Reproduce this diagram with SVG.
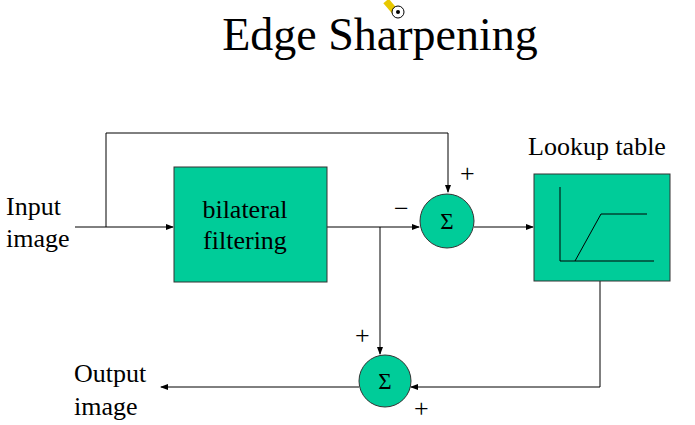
<svg xmlns="http://www.w3.org/2000/svg" width="695" height="425" viewBox="0 0 695 425">
<defs><marker id="a" markerWidth="8" markerHeight="8" refX="7" refY="4" orient="auto" markerUnits="userSpaceOnUse"><path d="M0,1 L8,4 L0,7 z" fill="#000"/></marker>
<style>.n{fill:#00cc99;stroke:#333;stroke-width:1}.c{fill:none;stroke:#000;stroke-width:1}</style></defs>
<rect width="695" height="425" fill="#fff"/>
<text x="380" y="50" font-size="46" text-anchor="middle" style="font-family:'Liberation Serif',serif">Edge Sharpening</text>
<g id="icon"><path d="M386,1 L398,15" stroke="#e8c800" stroke-width="7"/><circle cx="398" cy="12" r="6" fill="#fff" stroke="#000"/><circle cx="398" cy="12" r="2" fill="#000"/></g>
<g id="connectors">
<path class="c" d="M75,227 H173" marker-end="url(#a)"/>
<path class="c" d="M106,227 V133 H448 V192" marker-end="url(#a)"/>
<path class="c" d="M327,227 H419" marker-end="url(#a)"/>
<path class="c" d="M380,227 V354" marker-end="url(#a)"/>
<path class="c" d="M474,227 H533" marker-end="url(#a)"/>
<path class="c" d="M600,281 V387 H411" marker-end="url(#a)"/>
<path class="c" d="M359,387 H161" marker-end="url(#a)"/>
</g>
<g style="font-family:'Liberation Serif',serif;font-size:26px">
<g id="bilateral"><rect class="n" x="174" y="167" width="153" height="115"/><text x="245" y="218" text-anchor="middle">bilateral</text><text x="245" y="249" text-anchor="middle">filtering</text></g>
<g id="sum1"><circle class="n" cx="447" cy="221" r="27"/><text x="447" y="229" font-size="23" text-anchor="middle">Σ</text></g>
<g id="lut"><rect class="n" x="534" y="174" width="136" height="107"/><path class="c" d="M560,187 V261 H654 M575,261 L601,214 H647" stroke="#333"/></g>
<g id="sum2"><circle class="n" cx="385" cy="381" r="26"/><text x="385" y="389" font-size="23" text-anchor="middle">Σ</text></g>
<g id="labels">
<text x="6" y="215">Input</text><text x="6" y="247">image</text>
<text x="528" y="155">Lookup table</text>
<text x="74" y="382">Output</text><text x="74" y="415">image</text>
<text x="460" y="182">+</text><text x="394" y="217">−</text>
<text x="355" y="344">+</text><text x="414" y="417">+</text>
</g>
</g>
</svg>
